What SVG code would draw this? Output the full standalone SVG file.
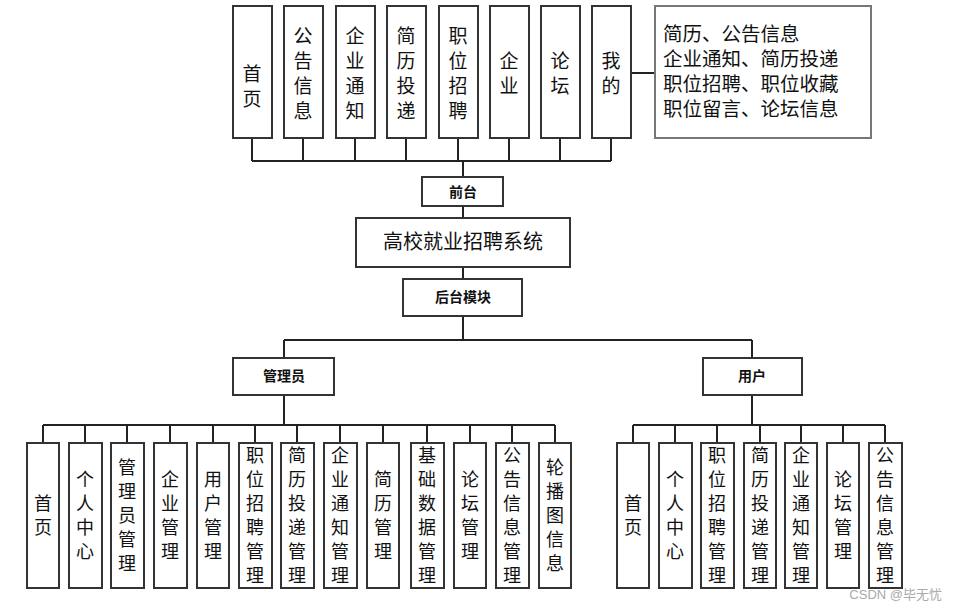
<svg xmlns="http://www.w3.org/2000/svg" width="959" height="610" viewBox="0 0 959 610">
<style>
rect{fill:#fff;stroke:#333;stroke-width:2}
.c line{stroke:#222;stroke-width:2}
text{font-family:"Noto Sans CJK SC","Liberation Serif",serif;fill:#111;text-anchor:middle}
.t{font-size:19px}
.b{font-size:18px}
.h{font-size:14px;font-weight:bold}
.m{font-size:20px}
.i{font-size:19.5px;text-anchor:start}
</style>
<g class="c">
<line x1="252" y1="161" x2="611" y2="161"/>
<line x1="252" y1="138" x2="252" y2="161"/><line x1="303" y1="138" x2="303" y2="161"/><line x1="355" y1="138" x2="355" y2="161"/><line x1="406" y1="138" x2="406" y2="161"/><line x1="458" y1="138" x2="458" y2="161"/><line x1="509" y1="138" x2="509" y2="161"/><line x1="560" y1="138" x2="560" y2="161"/><line x1="611" y1="138" x2="611" y2="161"/>
<line x1="631" y1="73" x2="655" y2="73"/>
<line x1="463" y1="161" x2="463" y2="177"/>
<line x1="463" y1="206" x2="463" y2="218"/>
<line x1="463" y1="267" x2="463" y2="279"/>
<line x1="463" y1="316" x2="463" y2="340"/>
<line x1="284" y1="340" x2="752" y2="340"/>
<line x1="284" y1="340" x2="284" y2="358"/><line x1="752" y1="340" x2="752" y2="358"/>
<line x1="284" y1="395" x2="284" y2="425"/><line x1="752" y1="395" x2="752" y2="425"/>
<line x1="43" y1="425" x2="555" y2="425"/>
<line x1="43" y1="425" x2="43" y2="443"/><line x1="85" y1="425" x2="85" y2="443"/><line x1="127" y1="425" x2="127" y2="443"/><line x1="170" y1="425" x2="170" y2="443"/><line x1="213" y1="425" x2="213" y2="443"/><line x1="255" y1="425" x2="255" y2="443"/><line x1="297" y1="425" x2="297" y2="443"/><line x1="340" y1="425" x2="340" y2="443"/><line x1="383" y1="425" x2="383" y2="443"/><line x1="427" y1="425" x2="427" y2="443"/><line x1="470" y1="425" x2="470" y2="443"/><line x1="512" y1="425" x2="512" y2="443"/><line x1="555" y1="425" x2="555" y2="443"/>
<line x1="633" y1="425" x2="885" y2="425"/>
<line x1="633" y1="425" x2="633" y2="443"/><line x1="675" y1="425" x2="675" y2="443"/><line x1="717" y1="425" x2="717" y2="443"/><line x1="760" y1="425" x2="760" y2="443"/><line x1="801" y1="425" x2="801" y2="443"/><line x1="843" y1="425" x2="843" y2="443"/><line x1="885" y1="425" x2="885" y2="443"/>
</g>
<g id="top-shouye"><rect x="233" y="6" width="39" height="132"/><text class="t"><tspan x="252" y="81">首</tspan><tspan x="252" y="106">页</tspan></text></g>
<g id="top-gonggao"><rect x="284" y="6" width="39" height="132"/><text class="t"><tspan x="303" y="43">公</tspan><tspan x="303" y="68">告</tspan><tspan x="303" y="93">信</tspan><tspan x="303" y="118">息</tspan></text></g>
<g id="top-qiyetongzhi"><rect x="336" y="6" width="39" height="132"/><text class="t"><tspan x="355" y="43">企</tspan><tspan x="355" y="68">业</tspan><tspan x="355" y="93">通</tspan><tspan x="355" y="118">知</tspan></text></g>
<g id="top-jianli"><rect x="387" y="6" width="39" height="132"/><text class="t"><tspan x="406" y="43">简</tspan><tspan x="406" y="68">历</tspan><tspan x="406" y="93">投</tspan><tspan x="406" y="118">递</tspan></text></g>
<g id="top-zhiwei"><rect x="439" y="6" width="39" height="132"/><text class="t"><tspan x="458" y="43">职</tspan><tspan x="458" y="68">位</tspan><tspan x="458" y="93">招</tspan><tspan x="458" y="118">聘</tspan></text></g>
<g id="top-qiye"><rect x="490" y="6" width="39" height="132"/><text class="t"><tspan x="509" y="68">企</tspan><tspan x="509" y="93">业</tspan></text></g>
<g id="top-luntan"><rect x="541" y="6" width="39" height="132"/><text class="t"><tspan x="560" y="68">论</tspan><tspan x="560" y="93">坛</tspan></text></g>
<g id="top-wode"><rect x="592" y="6" width="39" height="132"/><text class="t"><tspan x="611" y="68">我</tspan><tspan x="611" y="93">的</tspan></text></g>
<g id="info"><rect x="655" y="6" width="216" height="132" style="stroke:#777"/><text class="i"><tspan x="663" y="41">简历、公告信息</tspan><tspan x="663" y="66">企业通知、简历投递</tspan><tspan x="663" y="91">职位招聘、职位收藏</tspan><tspan x="663" y="116">职位留言、论坛信息</tspan></text></g>
<g id="qiantai"><rect x="422" y="177" width="81" height="29"/><text class="h" x="463" y="197">前台</text></g>
<g id="system"><rect x="356" y="218" width="214" height="49"/><text class="m" x="463" y="249">高校就业招聘系统</text></g>
<g id="houtai"><rect x="403" y="279" width="119" height="37"/><text class="h" x="463" y="302">后台模块</text></g>
<g id="admin"><rect x="233" y="358" width="101" height="37"/><text class="h" x="284" y="381">管理员</text></g>
<g id="user"><rect x="703" y="358" width="99" height="37"/><text class="h" x="752" y="381">用户</text></g>
<g id="a1"><rect x="27" y="443" width="32" height="145"/><text class="b"><tspan x="43" y="510">首</tspan><tspan x="43" y="534">页</tspan></text></g>
<g id="a2"><rect x="69" y="443" width="33" height="145"/><text class="b"><tspan x="85" y="486">个</tspan><tspan x="85" y="510">人</tspan><tspan x="85" y="534">中</tspan><tspan x="85" y="558">心</tspan></text></g>
<g id="a3"><rect x="111" y="443" width="33" height="145"/><text class="b"><tspan x="127" y="474">管</tspan><tspan x="127" y="498">理</tspan><tspan x="127" y="522">员</tspan><tspan x="127" y="546">管</tspan><tspan x="127" y="570">理</tspan></text></g>
<g id="a4"><rect x="154" y="443" width="33" height="145"/><text class="b"><tspan x="170" y="486">企</tspan><tspan x="170" y="510">业</tspan><tspan x="170" y="534">管</tspan><tspan x="170" y="558">理</tspan></text></g>
<g id="a5"><rect x="197" y="443" width="32" height="145"/><text class="b"><tspan x="213" y="486">用</tspan><tspan x="213" y="510">户</tspan><tspan x="213" y="534">管</tspan><tspan x="213" y="558">理</tspan></text></g>
<g id="a6"><rect x="239" y="443" width="33" height="145"/><text class="b"><tspan x="255" y="462">职</tspan><tspan x="255" y="486">位</tspan><tspan x="255" y="510">招</tspan><tspan x="255" y="534">聘</tspan><tspan x="255" y="558">管</tspan><tspan x="255" y="582">理</tspan></text></g>
<g id="a7"><rect x="281" y="443" width="33" height="145"/><text class="b"><tspan x="297" y="462">简</tspan><tspan x="297" y="486">历</tspan><tspan x="297" y="510">投</tspan><tspan x="297" y="534">递</tspan><tspan x="297" y="558">管</tspan><tspan x="297" y="582">理</tspan></text></g>
<g id="a8"><rect x="324" y="443" width="33" height="145"/><text class="b"><tspan x="340" y="462">企</tspan><tspan x="340" y="486">业</tspan><tspan x="340" y="510">通</tspan><tspan x="340" y="534">知</tspan><tspan x="340" y="558">管</tspan><tspan x="340" y="582">理</tspan></text></g>
<g id="a9"><rect x="367" y="443" width="32" height="145"/><text class="b"><tspan x="383" y="486">简</tspan><tspan x="383" y="510">历</tspan><tspan x="383" y="534">管</tspan><tspan x="383" y="558">理</tspan></text></g>
<g id="a10"><rect x="411" y="443" width="33" height="145"/><text class="b"><tspan x="427" y="462">基</tspan><tspan x="427" y="486">础</tspan><tspan x="427" y="510">数</tspan><tspan x="427" y="534">据</tspan><tspan x="427" y="558">管</tspan><tspan x="427" y="582">理</tspan></text></g>
<g id="a11"><rect x="454" y="443" width="32" height="145"/><text class="b"><tspan x="470" y="486">论</tspan><tspan x="470" y="510">坛</tspan><tspan x="470" y="534">管</tspan><tspan x="470" y="558">理</tspan></text></g>
<g id="a12"><rect x="496" y="443" width="33" height="145"/><text class="b"><tspan x="512" y="462">公</tspan><tspan x="512" y="486">告</tspan><tspan x="512" y="510">信</tspan><tspan x="512" y="534">息</tspan><tspan x="512" y="558">管</tspan><tspan x="512" y="582">理</tspan></text></g>
<g id="a13"><rect x="539" y="443" width="32" height="145"/><text class="b"><tspan x="555" y="474">轮</tspan><tspan x="555" y="498">播</tspan><tspan x="555" y="522">图</tspan><tspan x="555" y="546">信</tspan><tspan x="555" y="570">息</tspan></text></g>
<g id="u1"><rect x="617" y="443" width="32" height="145"/><text class="b"><tspan x="633" y="510">首</tspan><tspan x="633" y="534">页</tspan></text></g>
<g id="u2"><rect x="659" y="443" width="33" height="145"/><text class="b"><tspan x="675" y="486">个</tspan><tspan x="675" y="510">人</tspan><tspan x="675" y="534">中</tspan><tspan x="675" y="558">心</tspan></text></g>
<g id="u3"><rect x="701" y="443" width="33" height="145"/><text class="b"><tspan x="717" y="462">职</tspan><tspan x="717" y="486">位</tspan><tspan x="717" y="510">招</tspan><tspan x="717" y="534">聘</tspan><tspan x="717" y="558">管</tspan><tspan x="717" y="582">理</tspan></text></g>
<g id="u4"><rect x="744" y="443" width="32" height="145"/><text class="b"><tspan x="760" y="462">简</tspan><tspan x="760" y="486">历</tspan><tspan x="760" y="510">投</tspan><tspan x="760" y="534">递</tspan><tspan x="760" y="558">管</tspan><tspan x="760" y="582">理</tspan></text></g>
<g id="u5"><rect x="785" y="443" width="32" height="145"/><text class="b"><tspan x="801" y="462">企</tspan><tspan x="801" y="486">业</tspan><tspan x="801" y="510">通</tspan><tspan x="801" y="534">知</tspan><tspan x="801" y="558">管</tspan><tspan x="801" y="582">理</tspan></text></g>
<g id="u6"><rect x="827" y="443" width="32" height="145"/><text class="b"><tspan x="843" y="486">论</tspan><tspan x="843" y="510">坛</tspan><tspan x="843" y="534">管</tspan><tspan x="843" y="558">理</tspan></text></g>
<g id="u7"><rect x="869" y="443" width="33" height="145"/><text class="b"><tspan x="885" y="462">公</tspan><tspan x="885" y="486">告</tspan><tspan x="885" y="510">信</tspan><tspan x="885" y="534">息</tspan><tspan x="885" y="558">管</tspan><tspan x="885" y="582">理</tspan></text></g>
<text x="942" y="599" style="font-size:13px;fill:#aaa;text-anchor:end;font-family:'Liberation Sans','Noto Sans CJK SC',sans-serif">CSDN @毕无忧</text>
</svg>
